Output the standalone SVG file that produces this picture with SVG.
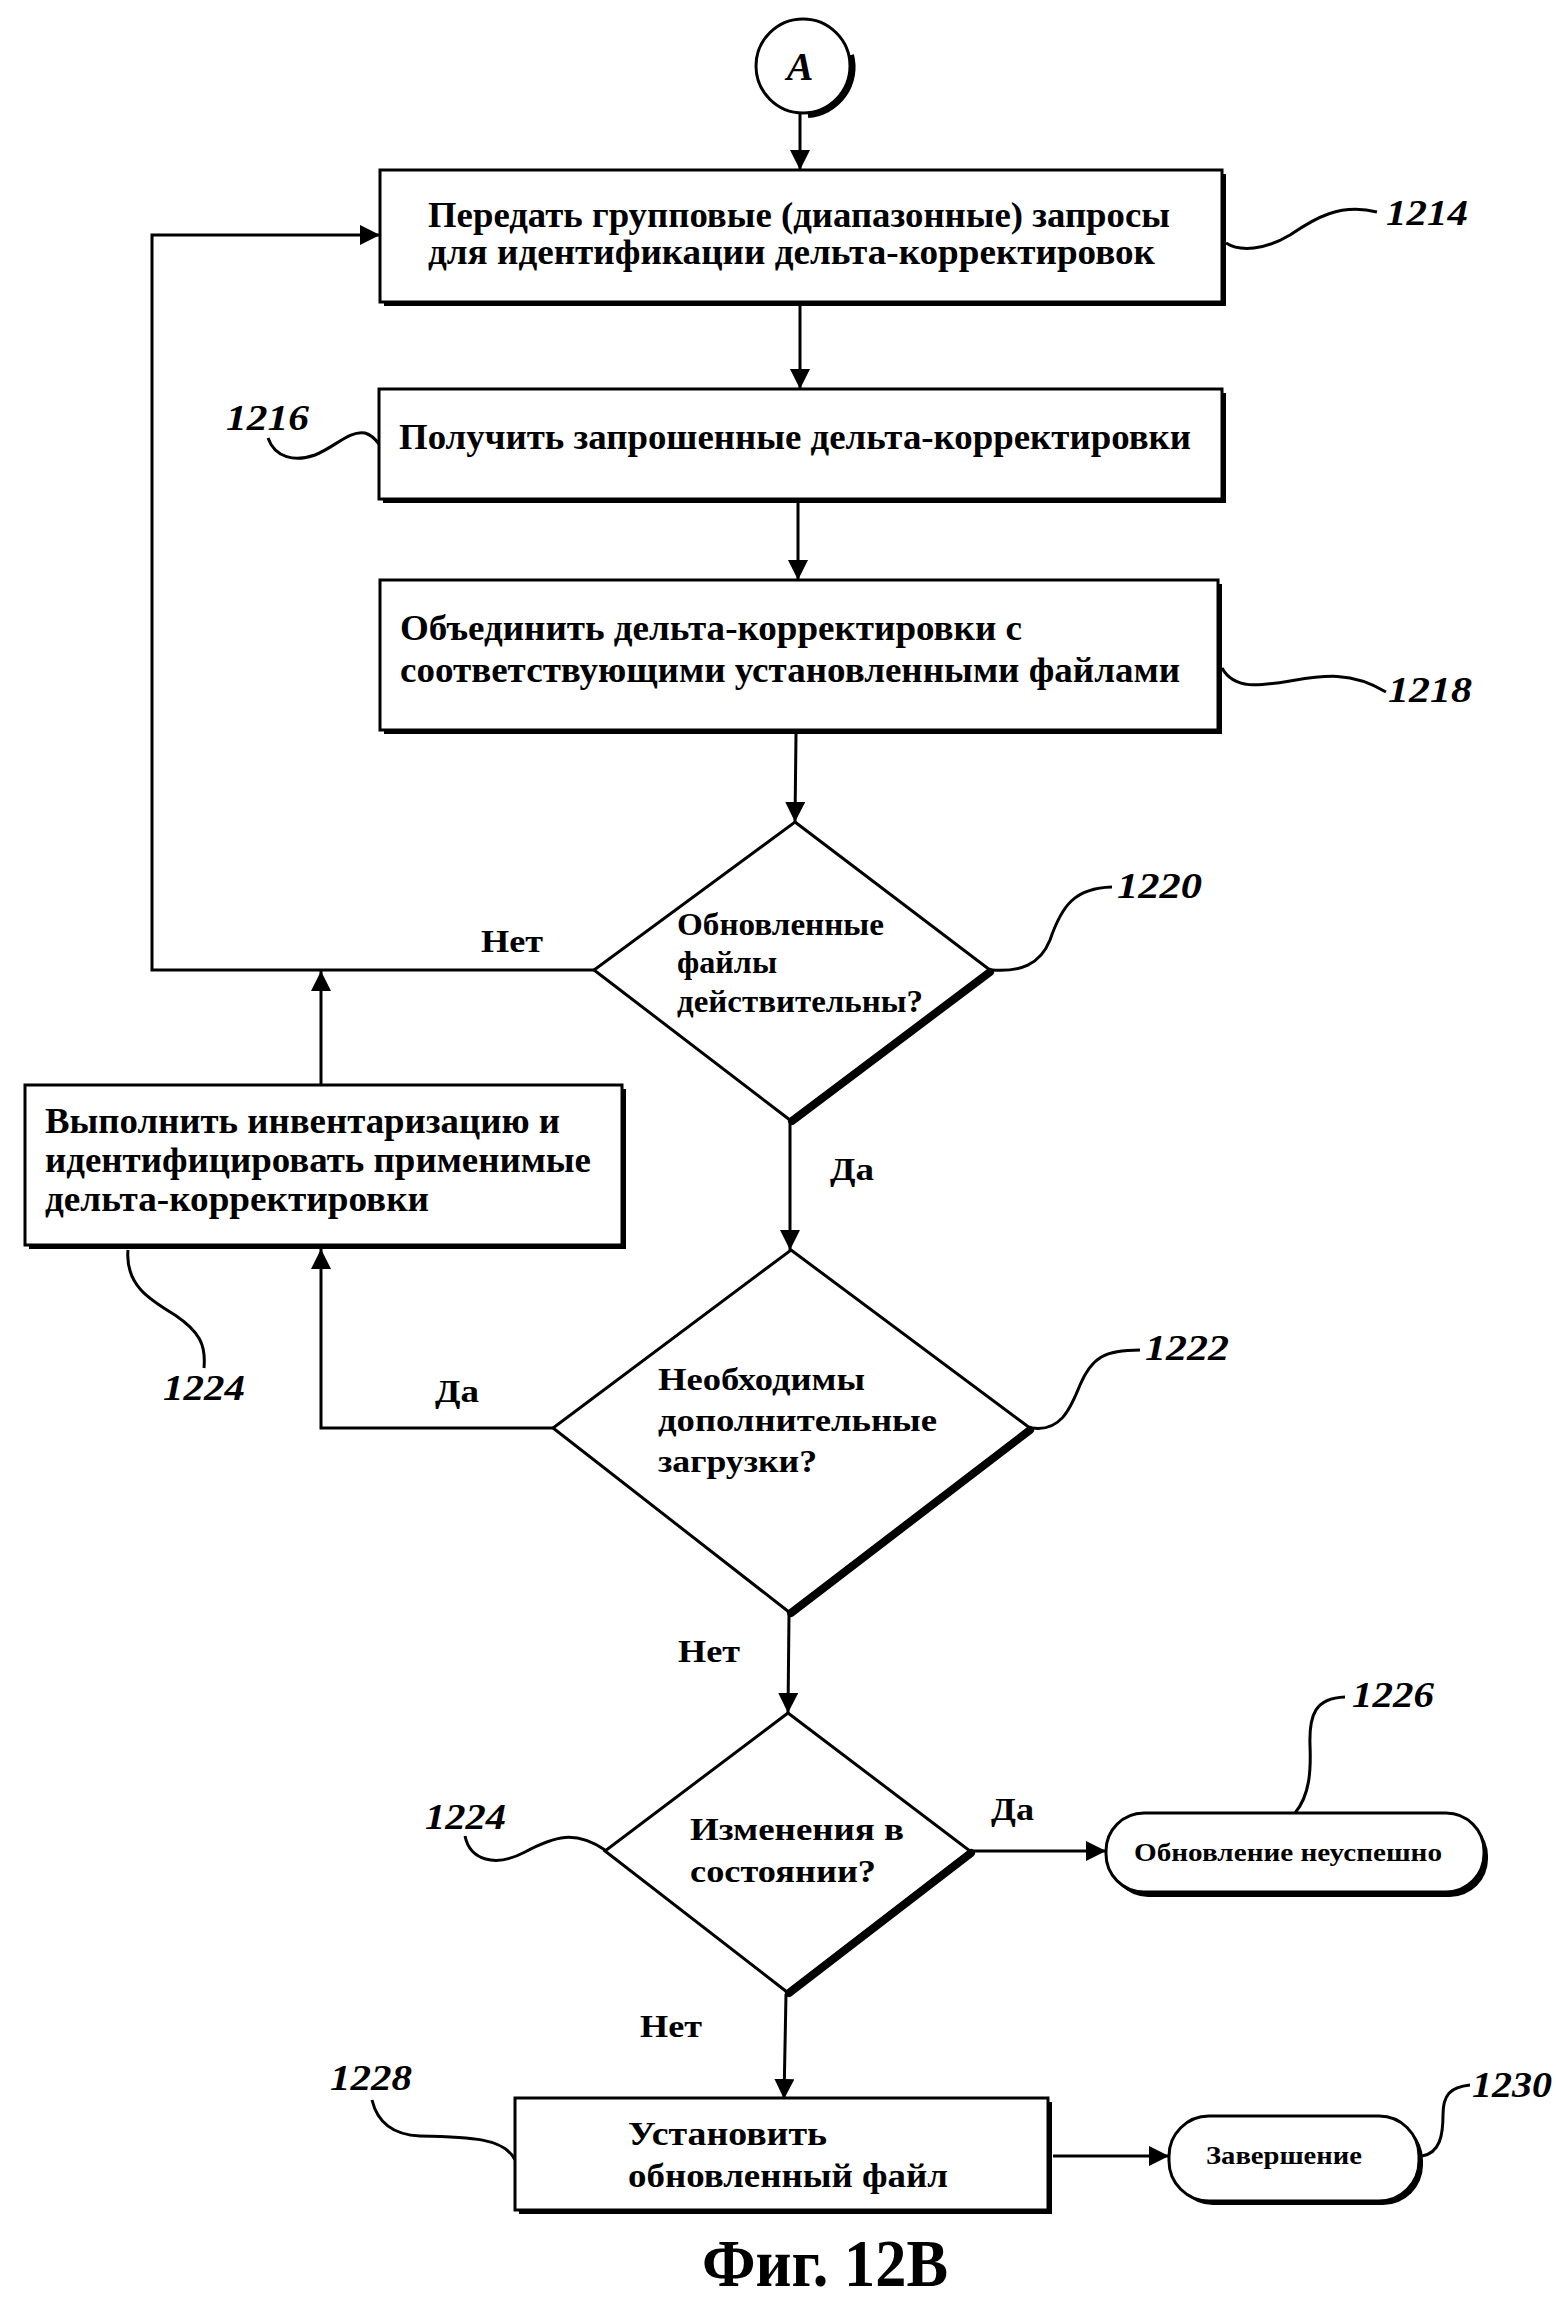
<svg xmlns="http://www.w3.org/2000/svg" width="1556" height="2310" viewBox="0 0 1556 2310">
<defs>
<style>
.bx{fill:#fff;stroke:#000;stroke-width:3}
.sh{fill:#000}
.conn{stroke:#000;stroke-width:3;fill:none}
.lead{stroke:#000;stroke-width:3;fill:none}
.edge{stroke:#000;stroke-width:8;fill:none;stroke-linecap:round}
.t{font-family:"Liberation Serif","Times New Roman",serif;font-weight:bold;fill:#000}
.ref{font-family:"Liberation Serif","Times New Roman",serif;font-weight:bold;font-style:italic;fill:#000;font-size:36px}
.lb{font-size:32px}
</style>
<marker id="ah" viewBox="0 0 20 20" refX="20" refY="10" markerWidth="20" markerHeight="20" markerUnits="userSpaceOnUse" orient="auto">
<path d="M0,0 L20,10 L0,20 z" fill="#000"/>
</marker>
</defs>
<rect width="1556" height="2310" fill="#fff"/>

<g id="connectors">
<line class="conn" x1="800" y1="114" x2="800" y2="170" marker-end="url(#ah)"/>
<line class="conn" x1="800" y1="306" x2="800" y2="389" marker-end="url(#ah)"/>
<line class="conn" x1="798" y1="503" x2="798" y2="580" marker-end="url(#ah)"/>
<line class="conn" x1="796" y1="734" x2="795" y2="822" marker-end="url(#ah)"/>
<polyline class="conn" points="594,970 152,970 152,235 380,235" marker-end="url(#ah)"/>
<line class="conn" x1="321" y1="1085" x2="321" y2="971" marker-end="url(#ah)"/>
<line class="conn" x1="790" y1="1122" x2="790" y2="1250" marker-end="url(#ah)"/>
<polyline class="conn" points="553,1428 321,1428 321,1249" marker-end="url(#ah)"/>
<line class="conn" x1="789" y1="1614" x2="788" y2="1713" marker-end="url(#ah)"/>
<line class="conn" x1="972" y1="1851" x2="1106" y2="1851" marker-end="url(#ah)"/>
<line class="conn" x1="786" y1="1994" x2="784" y2="2099" marker-end="url(#ah)"/>
<line class="conn" x1="1053" y1="2156" x2="1169" y2="2156" marker-end="url(#ah)"/>
<text class="t lb" x="481" y="952" textLength="62" lengthAdjust="spacingAndGlyphs">Нет</text>
<text class="t lb" x="830" y="1180" textLength="44" lengthAdjust="spacingAndGlyphs">Да</text>
<text class="t lb" x="435" y="1402" textLength="44" lengthAdjust="spacingAndGlyphs">Да</text>
<text class="t lb" x="678" y="1662" textLength="62" lengthAdjust="spacingAndGlyphs">Нет</text>
<text class="t lb" x="991" y="1820" textLength="43" lengthAdjust="spacingAndGlyphs">Да</text>
<text class="t lb" x="640" y="2037" textLength="62" lengthAdjust="spacingAndGlyphs">Нет</text>
</g>

<g id="nodeA">
<circle cx="803" cy="66" r="47" fill="#fff" stroke="#000" stroke-width="3"/>
<path d="M851,55 A48,48 0 0 1 808,115" stroke="#000" stroke-width="6" fill="none"/>
<text class="t" x="800" y="80" font-size="40" font-style="italic" text-anchor="middle">A</text>
</g>

<g id="n1214">
<rect class="sh" x="384" y="174" width="842" height="132"/>
<rect class="bx" x="380" y="170" width="842" height="132"/>
<text class="t" font-size="36" x="428" y="227" textLength="742" lengthAdjust="spacingAndGlyphs">Передать групповые (диапазонные) запросы</text>
<text class="t" font-size="36" x="428" y="264" textLength="727" lengthAdjust="spacingAndGlyphs">для идентификации дельта-корректировок</text>
<path class="lead" d="M1226,243 C1240,252 1265,250 1290,235 C1315,218 1340,203 1377,212"/>
<text class="ref" x="1386" y="225" textLength="82" lengthAdjust="spacingAndGlyphs">1214</text>
</g>

<g id="n1216">
<rect class="sh" x="383" y="393" width="843" height="110"/>
<rect class="bx" x="379" y="389" width="843" height="110"/>
<text class="t" font-size="36" x="399" y="449" textLength="792" lengthAdjust="spacingAndGlyphs">Получить запрошенные дельта-корректировки</text>
<path class="lead" d="M268,438 C275,458 295,462 315,455 C335,447 350,430 365,433 C372,435 376,440 379,444"/>
<text class="ref" x="226" y="430" textLength="83" lengthAdjust="spacingAndGlyphs">1216</text>
</g>

<g id="n1218">
<rect class="sh" x="384" y="584" width="838" height="150"/>
<rect class="bx" x="380" y="580" width="838" height="150"/>
<text class="t" font-size="36" x="400" y="640" textLength="622" lengthAdjust="spacingAndGlyphs">Объединить дельта-корректировки с</text>
<text class="t" font-size="36" x="400" y="682" textLength="780" lengthAdjust="spacingAndGlyphs">соответствующими установленными файлами</text>
<path class="lead" d="M1222,668 C1234,690 1260,686 1290,681 C1320,676 1350,670 1386,692"/>
<text class="ref" x="1388" y="702" textLength="84" lengthAdjust="spacingAndGlyphs">1218</text>
</g>

<g id="n1220">
<polygon class="bx" points="795,822 990,970 790,1120 594,970"/>
<line class="edge" x1="990" y1="972" x2="792" y2="1121"/>
<text class="t" font-size="31" x="677" y="935" textLength="207" lengthAdjust="spacingAndGlyphs">Обновленные</text>
<text class="t" font-size="31" x="677" y="973" textLength="100" lengthAdjust="spacingAndGlyphs">файлы</text>
<text class="t" font-size="31" x="677" y="1012" textLength="246" lengthAdjust="spacingAndGlyphs">действительны?</text>
<path class="lead" d="M992,970 C1020,972 1040,965 1050,940 C1062,905 1075,888 1112,887"/>
<text class="ref" x="1117" y="898" textLength="85" lengthAdjust="spacingAndGlyphs">1220</text>
</g>

<g id="n1224box">
<rect class="sh" x="29" y="1089" width="597" height="160"/>
<rect class="bx" x="25" y="1085" width="597" height="160"/>
<text class="t" font-size="36" x="45" y="1133" textLength="515" lengthAdjust="spacingAndGlyphs">Выполнить инвентаризацию и</text>
<text class="t" font-size="36" x="45" y="1172" textLength="546" lengthAdjust="spacingAndGlyphs">идентифицировать применимые</text>
<text class="t" font-size="36" x="45" y="1211" textLength="384" lengthAdjust="spacingAndGlyphs">дельта-корректировки</text>
<path class="lead" d="M128,1250 C125,1285 150,1300 175,1315 C200,1332 206,1345 204,1368"/>
<text class="ref" x="163" y="1400" textLength="82" lengthAdjust="spacingAndGlyphs">1224</text>
</g>

<g id="n1222">
<polygon class="bx" points="791,1250 1030,1428 789,1612 553,1428"/>
<line class="edge" x1="1030" y1="1430" x2="791" y2="1613"/>
<text class="t" font-size="32" x="658" y="1390" textLength="207" lengthAdjust="spacingAndGlyphs">Необходимы</text>
<text class="t" font-size="32" x="658" y="1431" textLength="279" lengthAdjust="spacingAndGlyphs">дополнительные</text>
<text class="t" font-size="32" x="658" y="1472" textLength="159" lengthAdjust="spacingAndGlyphs">загрузки?</text>
<path class="lead" d="M1032,1428 C1060,1432 1070,1410 1080,1385 C1092,1357 1105,1350 1140,1350"/>
<text class="ref" x="1145" y="1360" textLength="84" lengthAdjust="spacingAndGlyphs">1222</text>
</g>

<g id="n1224dec">
<polygon class="bx" points="788,1713 970,1851 787,1992 605,1851"/>
<line class="edge" x1="971" y1="1853" x2="789" y2="1993"/>
<text class="t" font-size="32" x="690" y="1840" textLength="214" lengthAdjust="spacingAndGlyphs">Изменения в</text>
<text class="t" font-size="32" x="690" y="1882" textLength="186" lengthAdjust="spacingAndGlyphs">состоянии?</text>
<path class="lead" d="M465,1836 C470,1860 495,1868 525,1852 C555,1836 575,1830 605,1850"/>
<text class="ref" x="425" y="1829" textLength="81" lengthAdjust="spacingAndGlyphs">1224</text>
</g>

<g id="n1226">
<rect class="sh" x="1110" y="1818" width="378" height="79" rx="38"/>
<rect class="bx" x="1106" y="1813" width="378" height="79" rx="38"/>
<text class="t" font-size="26" x="1134" y="1861" textLength="308" lengthAdjust="spacingAndGlyphs">Обновление неуспешно</text>
<path class="lead" d="M1295,1813 C1310,1795 1311,1770 1310,1745 C1309,1715 1315,1698 1345,1697"/>
<text class="ref" x="1352" y="1707" textLength="82" lengthAdjust="spacingAndGlyphs">1226</text>
</g>

<g id="n1228">
<rect class="sh" x="519" y="2102" width="533" height="112"/>
<rect class="bx" x="515" y="2098" width="533" height="112"/>
<text class="t" font-size="33" x="628" y="2145" textLength="199" lengthAdjust="spacingAndGlyphs">Установить</text>
<text class="t" font-size="33" x="628" y="2187" textLength="320" lengthAdjust="spacingAndGlyphs">обновленный файл</text>
<path class="lead" d="M372,2100 C378,2125 395,2135 420,2136 C470,2137 505,2138 515,2160"/>
<text class="ref" x="330" y="2090" textLength="82" lengthAdjust="spacingAndGlyphs">1228</text>
</g>

<g id="n1230">
<rect class="sh" x="1173" y="2120" width="250" height="85" rx="40"/>
<rect class="bx" x="1169" y="2116" width="250" height="85" rx="40"/>
<text class="t" font-size="25" x="1206" y="2164" textLength="156" lengthAdjust="spacingAndGlyphs">Завершение</text>
<path class="lead" d="M1422,2156 C1440,2153 1443,2135 1443,2115 C1443,2095 1450,2087 1470,2085"/>
<text class="ref" x="1472" y="2097" textLength="80" lengthAdjust="spacingAndGlyphs">1230</text>
</g>

<g id="caption">
<text class="t" font-size="68" x="702" y="2286" textLength="246" lengthAdjust="spacingAndGlyphs">Фиг. 12В</text>
</g>
</svg>
